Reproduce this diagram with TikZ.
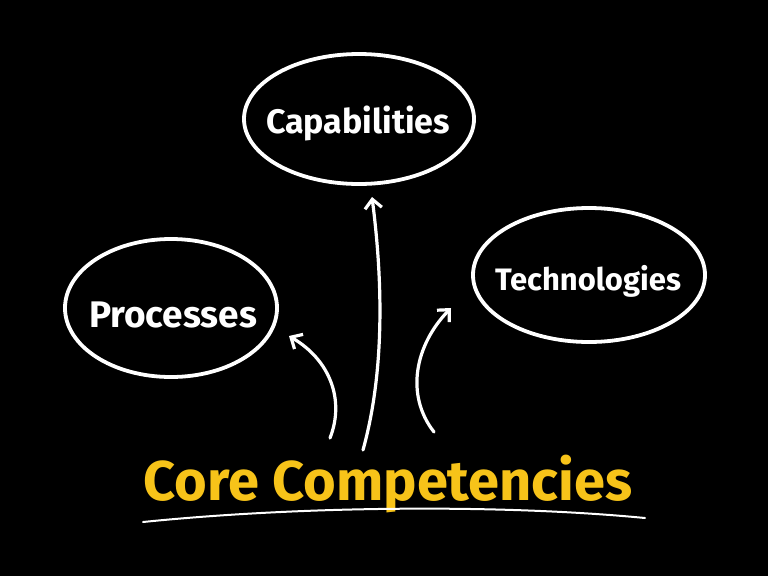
\documentclass[tikz,border=0pt]{standalone}
\usepackage{fontspec}
\setmainfont{Fira Sans}
\usetikzlibrary{shapes.geometric,arrows.meta}
\definecolor{titleyellow}{HTML}{F7C319}
\begin{document}
\begin{tikzpicture}[x=1pt,y=-1pt,
  bubble/.style={ellipse,draw=white,line width=3.8pt,inner sep=0pt},
  bubbletext/.style={text=white,inner sep=0pt,font=\fontsize{34}{36}\selectfont\bfseries},
  link/.style={draw=white,line width=3.2pt,line cap=round,
    -{Straight Barb[length=9pt,width=17pt,line width=3.2pt]}}]
\fill[black] (0,0) rectangle (768,576);
\useasboundingbox (0,0) rectangle (768,576);
% ellipses
\node[bubble,minimum width=230pt,minimum height=130pt] (cap) at (359,119) {};
\node[bubble,minimum width=212pt,minimum height=138pt] (proc) at (171,308) {};
\node[bubble,minimum width=232pt,minimum height=134pt] (tech) at (589,275) {};
\node[bubbletext] (capt) at (358,123) {Capabilities};
\node[bubbletext,font=\fontsize{37}{40}\selectfont\bfseries] (proct) at (173,315) {Processes};
\node[bubbletext,font=\fontsize{31}{34}\selectfont\bfseries] (techt) at (588,281) {Technologies};
% title
\node[text=titleyellow,font=\fontsize{56}{60}\selectfont\bfseries] (title) at (388,484) {Core Competencies};
\coordinate (ulA) at (143,522);
\coordinate (ulB) at (645,518);
\draw[white,line width=2pt,line cap=round] (ulA) .. controls (300,506) and (500,504) .. (ulB);
% arrows
\coordinate (s1) at (330,438);
\coordinate (e1) at (289,336);
\coordinate (s2) at (363,450);
\coordinate (e2) at (372,197);
\coordinate (s3) at (434,432);
\coordinate (e3) at (451,308);
\draw[link] (s1) .. controls (345,400) and (330,360) .. (e1);
\draw[link] (s2) .. controls (388,360) and (380,260) .. (e2);
\draw[link] (s3) .. controls (405,395) and (415,345) .. (e3);
\end{tikzpicture}
\end{document}
